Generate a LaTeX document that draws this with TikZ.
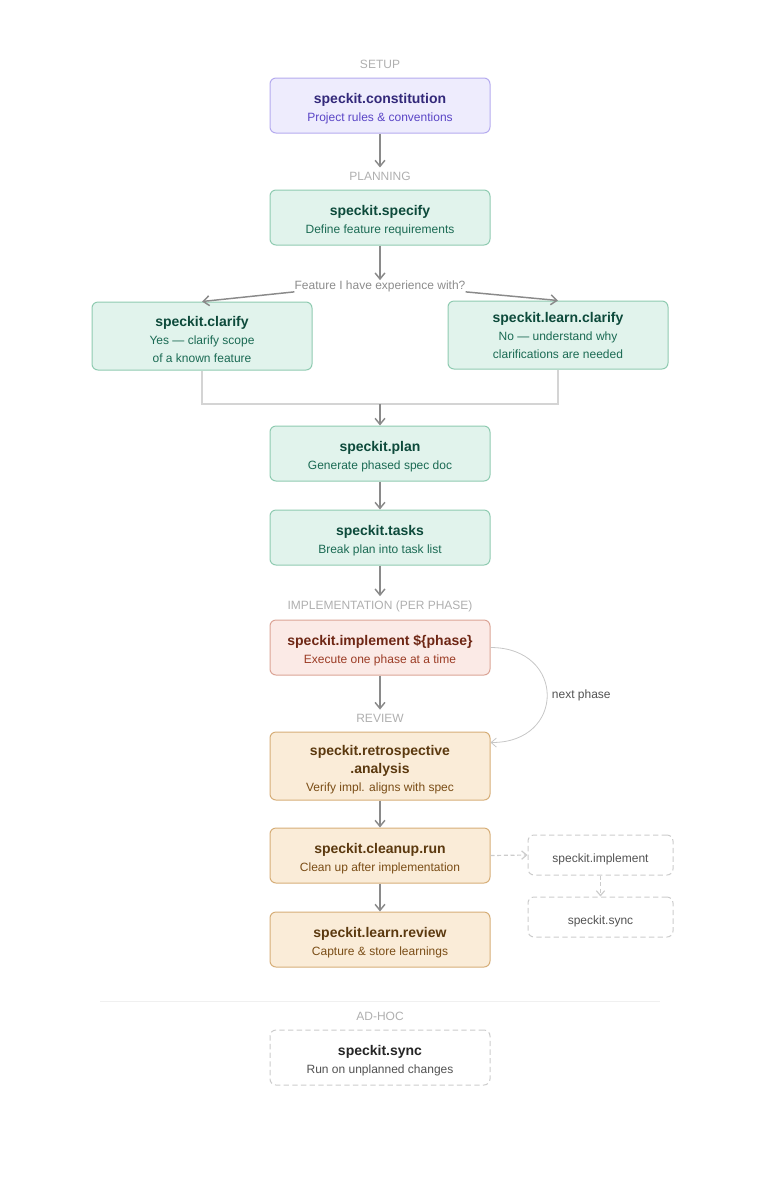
\documentclass[tikz,border=0pt]{standalone}
\usepackage{fontspec}
\setmainfont{Liberation Sans}
\usepackage{xcolor}
\usepackage{tikz}
\usetikzlibrary{positioning,arrows.meta,calc}
\definecolor{setupfill}{HTML}{EEECFD}
\definecolor{setupline}{HTML}{B5ABEF}
\definecolor{setuphead}{HTML}{33297A}
\definecolor{setupsub}{HTML}{5A45C6}
\definecolor{planfill}{HTML}{E1F3EC}
\definecolor{planline}{HTML}{8FCBB1}
\definecolor{planhead}{HTML}{0D4A3B}
\definecolor{plansub}{HTML}{1A6A53}
\definecolor{implfill}{HTML}{FBEAE6}
\definecolor{implline}{HTML}{DBA496}
\definecolor{implhead}{HTML}{6E2614}
\definecolor{implsub}{HTML}{9B3B24}
\definecolor{revfill}{HTML}{FAECD8}
\definecolor{revline}{HTML}{D6AE78}
\definecolor{revhead}{HTML}{5B390F}
\definecolor{revsub}{HTML}{7A4D16}
\definecolor{phasegray}{HTML}{AFAFAF}
\definecolor{flowgray}{HTML}{8A8A8A}
% box title, optional strut lowers the text block
\newcommand{\hd}[3][13pt]{{\color{#2}\bfseries\fontsize{10.5}{13.5}\selectfont\rule{0pt}{#1}#3}}
\tikzset{
  card/.style={rounded corners=4.5pt, line width=0.75pt, minimum width=165pt, minimum height=41.25pt, align=center, inner sep=2pt, font=\fontsize{9}{13.5}\selectfont},
  setupbox/.style={card, draw=setupline, fill=setupfill, text=setupsub},
  planbox/.style ={card, draw=planline, fill=planfill, text=plansub},
  implbox/.style ={card, draw=implline, fill=implfill, text=implsub},
  revbox/.style  ={card, draw=revline, fill=revfill, text=revsub},
  adhocbox/.style={card, draw=black!20, dash pattern=on 4pt off 2.5pt, fill=white, text=black!68},
  sidebox/.style ={rounded corners=4.5pt, line width=0.75pt, draw=black!20, dash pattern=on 4pt off 2.5pt, minimum width=108.75pt, minimum height=30pt, text=black!68, font=\fontsize{9}{11}\selectfont, execute at begin node={\rule{0pt}{13pt}}},
  phase/.style   ={text=phasegray, inner sep=3pt, font=\fontsize{9}{11}\selectfont},
  flow/.style    ={-{Straight Barb[length=1.6mm,width=2.6mm]}, line width=1.1pt, flowgray},
  merge/.style   ={line width=1pt, black!17},
  loopback/.style={-{Straight Barb[length=1.4mm,width=2.4mm]}, line width=0.6pt, black!22},
  sideflow/.style={-{Straight Barb[length=1.3mm,width=2.2mm]}, line width=0.9pt, black!20, dash pattern=on 3pt off 2pt},
}

\begin{document}
\begin{tikzpicture}[x=0.75pt, y=-0.75pt]
  \useasboundingbox (0,0) rectangle (760,1190);
  % setup
  \node[phase] (lsetup) at (380,64) {SETUP};
  \node[setupbox] (const) at (380,105.5) {\hd{setuphead}{speckit.constitution}\\Project rules \& conventions};
  % planning
  \node[phase] (lplan) at (380,176) {PLANNING};
  \node[planbox] (spec) at (380,217.5) {\hd{planhead}{speckit.specify}\\Define feature requirements};
  \node[phase, inner sep=0pt, text=black!45] (ask) at (380,286) {Feature I have experience with?};
  \node[planbox, minimum height=51pt] (clar) at (202,336) {\hd{planhead}{speckit.clarify}\\Yes --- clarify scope\\of a known feature};
  \node[planbox, minimum height=51pt] (lclar) at (558,335) {\hd[0pt]{planhead}{speckit.learn.clarify}\\No --- understand why\\clarifications are needed};
  \coordinate (mrg) at (380,404);
  \node[planbox] (plan) at (380,453.5) {\hd{planhead}{speckit.plan}\\Generate phased spec doc};
  \node[planbox] (tasks) at (380,537.5) {\hd{planhead}{speckit.tasks}\\Break plan into task list};
  % implementation
  \node[phase] (limpl) at (380,606) {IMPLEMENTATION (PER PHASE)};
  \node[implbox] (impl) at (380,647.5) {\hd{implhead}{speckit.implement \$\{phase\}}\\Execute one phase at a time};
  % review
  \node[phase] (lrev) at (380,718) {REVIEW};
  \node[revbox, minimum height=51pt] (retro) at (380,766) {\hd{revhead}{speckit.retrospective}\\\hd[0pt]{revhead}{.analysis}\\Verify impl. aligns with spec};
  \node[revbox] (clean) at (380,855.5) {\hd{revhead}{speckit.cleanup.run}\\Clean up after implementation};
  \node[revbox] (lrn) at (380,939.5) {\hd{revhead}{speckit.learn.review}\\Capture \& store learnings};
  \node[sidebox] (simpl) at (600.5,855) {speckit.implement};
  \node[sidebox] (ssync) at (600.5,917) {speckit.sync};
  % ad-hoc
  \coordinate (sepl) at (100,1001);
  \coordinate (sepr) at (660,1001);
  \node[phase] (ladhoc) at (380,1016) {AD-HOC};
  \node[adhocbox] (sync) at (380,1057.5) {\hd{black!85}{speckit.sync}\\Run on unplanned changes};

  \draw[flow] (const) -- (lplan);
  \draw[flow] (spec) -- (ask);
  \draw[flow] (ask.south west) -- (clar.north);
  \draw[flow] (ask.south east) -- (lclar.north);
  \draw[merge] (clar.south) |- (mrg) -| (lclar.south);
  \draw[flow] (mrg) -- (plan.north);
  \draw[flow] (plan) -- (tasks);
  \draw[flow] (tasks) -- (limpl);
  \draw[flow] (impl) -- (lrev);
  \draw[loopback] (impl.east) .. controls (566,647.5) and (566,743) .. ($(retro.north east)+(0,11)$)
    node[pos=0.5, right=0pt, text=black!68, font=\fontsize{9}{11}\selectfont] {next phase};
  \draw[flow] (retro) -- (clean);
  \draw[flow] (clean) -- (lrn);
  \draw[sideflow] (clean.east) -- (simpl.west);
  \draw[sideflow] (simpl) -- (ssync);
  \draw[line width=0.75pt, black!6] (sepl) -- (sepr);
\end{tikzpicture}
\end{document}
